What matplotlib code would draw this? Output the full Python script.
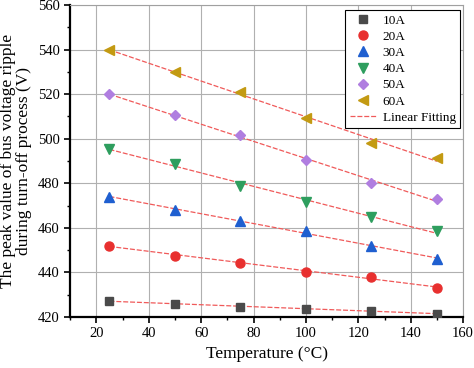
import numpy as np
import matplotlib.pyplot as plt
from matplotlib.ticker import MultipleLocator

plt.rcParams['font.family'] = ['Liberation Serif', 'DejaVu Serif']

temps = [25, 50, 75, 100, 125, 150]
labels = ['10A', '20A', '30A', '40A', '50A', '60A']
v10 = [427.2, 425.8, 424.6, 423.6, 422.6, 421.5]
v20 = [452.0, 447.5, 444.4, 440.1, 438.1, 433.0]
v30 = [474.0, 468.0, 463.1, 458.6, 451.9, 445.9]
v40 = [495.6, 488.7, 478.9, 471.5, 464.7, 458.7]
v50 = [519.9, 510.6, 501.5, 490.4, 480.3, 472.9]
v60 = [539.8, 530.0, 521.1, 509.1, 498.2, 491.2]
series = [v10, v20, v30, v40, v50, v60]
colors = ['#4a4a4a', '#e8302f', '#1f5fd0', '#2e9e5e', '#b07ee0', '#c39a12']
markers = ['s', 'o', '^', 'v', 'D', '<']
msizes = [6, 6.5, 6.5, 6.5, 5.5, 7]

fig = plt.figure(figsize=(4.74, 3.68), dpi=100)
ax = fig.add_axes([0.148, 0.139, 0.829, 0.847])

t = np.array(temps)
for vals, lab, c, m, ms in zip(series, labels, colors, markers, msizes):
    ax.plot(t, vals, linestyle='none', marker=m, color=c, markersize=ms, label=lab, zorder=3)
for i, vals in enumerate(series):
    k, b = np.polyfit(t, vals, 1)
    ax.plot(t, k * t + b, color='#f05a5a', lw=0.9, ls=(0, (4, 1.5)), zorder=2,
            label='Linear Fitting' if i == 0 else None)

ax.set_xlim(10, 160)
ax.set_ylim(420, 560)
ax.xaxis.set_major_locator(MultipleLocator(20))
ax.xaxis.set_minor_locator(MultipleLocator(10))
ax.yaxis.set_major_locator(MultipleLocator(20))
ax.yaxis.set_minor_locator(MultipleLocator(10))
ax.grid(True, which='major', color='#b0b0b0', lw=0.8)
ax.tick_params(which='major', direction='out', length=4, width=1.2, labelsize=10.5)
ax.tick_params(which='minor', direction='out', length=2.5, width=1)
for s in ['left', 'bottom']:
    ax.spines[s].set_linewidth(1.6)
for s in ['top', 'right']:
    ax.spines[s].set_color('#a0a0a0')
    ax.spines[s].set_linewidth(0.8)

ax.set_xlabel('Temperature (°C)', fontsize=12.5)
ax.set_ylabel('The peak value of bus voltage ripple\nduring turn-off process (V)', fontsize=12.5,
              linespacing=1.0)

h, l = ax.get_legend_handles_labels()
leg = ax.legend(h, l, loc='upper right', fontsize=9.5, frameon=True, fancybox=False,
                edgecolor='black', framealpha=1, borderpad=0.35, labelspacing=0.3,
                handlelength=2.0, handletextpad=0.5, borderaxespad=0,
                bbox_to_anchor=(0.993, 0.985))
leg.get_frame().set_linewidth(0.8)

fig.savefig('out.png', dpi=100)
